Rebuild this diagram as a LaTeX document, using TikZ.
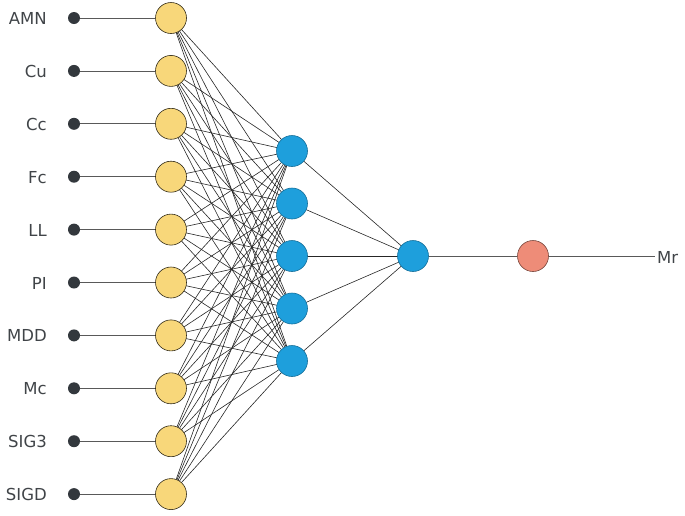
\documentclass[tikz,border=0pt]{standalone}
\usepackage{fontspec}
\setmainfont{DejaVu Sans}
\definecolor{txt}{HTML}{404448}
\definecolor{yel}{HTML}{F8D77A}
\definecolor{blu}{HTML}{1E9FDC}
\definecolor{sal}{HTML}{EE8C78}
\definecolor{dotc}{HTML}{33383D}
\begin{document}
\begin{tikzpicture}[x=1pt,y=-1pt,
  inode/.style={circle,fill=yel,draw=black!80!yel,line width=0.6pt,minimum size=31pt,inner sep=0pt},
  hnode/.style={circle,fill=blu,draw=blu!70!black,line width=0.6pt,minimum size=31pt,inner sep=0pt},
  onode/.style={circle,fill=sal,draw=sal!50!black,line width=0.6pt,minimum size=31pt,inner sep=0pt},
  dotn/.style={circle,fill=dotc,minimum size=12pt,inner sep=0pt},
  lab/.style={text=txt,font=\fontsize{16.5}{18}\selectfont,anchor=east,inner sep=0pt},
  wire/.style={draw=black!85,line width=0.6pt},
  gwire/.style={draw=black!65,line width=1pt}]
\useasboundingbox (0,0) rectangle (685,515);
\foreach \n/\t [count=\i from 0] in {a/AMN,b/Cu,c/Cc,d/Fc,e/LL,f/PI,g/MDD,h/Mc,k/SIG3,l/SIGD}{
  \coordinate (c\n) at (171,{18+\i*52.9});
  \node[dotn] (d\n) at (74,{18+\i*52.9}) {};
  \node[lab] (t\n) at (47,{18.5+\i*52.9}) {\t};
}
\foreach \j [count=\k from 0] in {1,...,5}{
  \coordinate (ch\j) at (292,{151+\k*52.5});
}
\coordinate (co) at (413,256);
\coordinate (cr) at (533,256);
% edges
\foreach \n in {a,b,c,d,e,f,g,h,k,l}{
  \foreach \j in {1,...,5}{
    \draw[wire] (c\n) -- (ch\j);
  }
}
\foreach \j in {1,...,5}{ \draw[wire] (ch\j) -- (co); }
% nodes
\foreach \n in {a,b,c,d,e,f,g,h,k,l}{
  \node[inode] (y\n) at (c\n) {};
  \draw[gwire,line width=0.7pt] (d\n) -- (y\n);
}
\foreach \j in {1,...,5}{ \node[hnode] (h\j) at (ch\j) {}; }
\node[hnode] (o) at (co) {};
\node[onode] (r) at (cr) {};
\coordinate (end) at (655,256);
\node[text=txt,font=\fontsize{16.5}{18}\selectfont,anchor=west,inner sep=0pt] (mr) at (657,257) {Mr};
\draw[gwire] (o) -- (r);
\draw[gwire] (r) -- (end);
\end{tikzpicture}
\end{document}
